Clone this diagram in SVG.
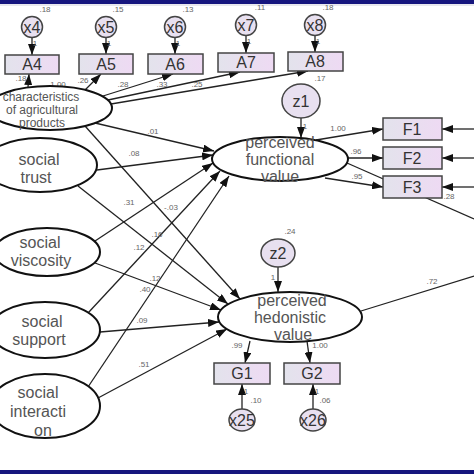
<svg xmlns="http://www.w3.org/2000/svg" width="474" height="474" viewBox="0 0 474 474">
<defs>
<linearGradient id="bx" x1="0" y1="0" x2="1" y2="0">
<stop offset="0" stop-color="#e3e3ec"/>
<stop offset="1" stop-color="#eedaf3"/>
</linearGradient>
<marker id="ah" viewBox="0 0 11 8" refX="11" refY="4" markerWidth="11" markerHeight="8" markerUnits="userSpaceOnUse" orient="auto">
<path d="M0,0 L11,4 L0,8 Z" fill="#111"/>
</marker>
</defs>
<style>
.box{fill:url(#bx);stroke:#444;stroke-width:1.5}
.err{fill:#e8e0f0;stroke:#444;stroke-width:1.5}
.lat{fill:#fff;stroke:#111;stroke-width:2}
.bt{font-family:"Liberation Sans",Arial,sans-serif;font-size:16px;fill:#333;text-anchor:middle}
.lt{font-family:"Liberation Sans",Arial,sans-serif;font-size:16px;fill:#555;text-anchor:middle}
.st{font-family:"Liberation Sans",Arial,sans-serif;font-size:12px;fill:#555;text-anchor:middle}
.n{font-family:"Liberation Sans",Arial,sans-serif;font-size:8px;fill:#666;text-anchor:middle}
.c line{stroke:#222;stroke-width:1.3;fill:none}
.c .a{marker-end:url(#ah)}
</style>
<rect x="0" y="0" width="474" height="474" fill="#fff"/>
<rect x="0" y="0" width="474" height="4" fill="#16167e"/>
<rect x="0" y="4" width="474" height="2" fill="#e8e8ee"/>
<rect x="0" y="470" width="474" height="4" fill="#16167e"/>

<g class="c" id="connectors">
<line class="a" x1="32" y1="37" x2="32" y2="55"/>
<line class="a" x1="106" y1="37" x2="106" y2="54"/>
<line class="a" x1="175" y1="37" x2="175" y2="54"/>
<line class="a" x1="246" y1="35" x2="246" y2="53"/>
<line class="a" x1="315" y1="35" x2="315" y2="52"/>
<line class="a" x1="28" y1="87" x2="29" y2="74"/>
<line class="a" x1="85" y1="90" x2="101" y2="74"/>
<line class="a" x1="103" y1="96" x2="173" y2="74"/>
<line class="a" x1="108" y1="100" x2="240" y2="72"/>
<line class="a" x1="111" y1="104" x2="308" y2="71"/>
<line class="a" x1="301" y1="118" x2="301" y2="138"/>
<line class="a" x1="95" y1="123" x2="214" y2="151"/>
<line class="a" x1="97" y1="170" x2="213" y2="155"/>
<line class="a" x1="95" y1="241" x2="213" y2="163"/>
<line class="a" x1="88" y1="313" x2="220" y2="171"/>
<line class="a" x1="88" y1="387" x2="229" y2="176"/>
<line class="a" x1="85" y1="126" x2="240" y2="299"/>
<line class="a" x1="78" y1="186" x2="228" y2="304"/>
<line class="a" x1="95" y1="263" x2="221" y2="310"/>
<line class="a" x1="100" y1="332" x2="219" y2="322"/>
<line class="a" x1="98" y1="398" x2="227" y2="329"/>
<line class="a" x1="316" y1="140" x2="383" y2="129"/>
<line class="a" x1="348" y1="158" x2="383" y2="158"/>
<line class="a" x1="325" y1="178" x2="383" y2="187"/>
<line class="a" x1="474" y1="129" x2="442" y2="129"/>
<line class="a" x1="474" y1="158" x2="442" y2="158"/>
<line class="a" x1="474" y1="187" x2="442" y2="187"/>
<line x1="347" y1="163" x2="474" y2="219"/>
<line x1="361" y1="311" x2="474" y2="276"/>
<line class="a" x1="278" y1="267" x2="278" y2="292"/>
<line class="a" x1="250" y1="341" x2="245" y2="363"/>
<line class="a" x1="307" y1="341" x2="310" y2="363"/>
<line class="a" x1="242" y1="409" x2="242" y2="384"/>
<line class="a" x1="313" y1="409" x2="313" y2="384"/>
</g>

<g id="x4"><circle class="err" cx="32" cy="27" r="10.5"/><text class="bt" x="32" y="33">x4</text><text class="n" x="45" y="12">.18</text></g>
<g id="x5"><circle class="err" cx="106" cy="27" r="10.5"/><text class="bt" x="106" y="33">x5</text><text class="n" x="118" y="12">.15</text></g>
<g id="x6"><circle class="err" cx="175" cy="27" r="10.5"/><text class="bt" x="175" y="33">x6</text><text class="n" x="188" y="12">.13</text></g>
<g id="x7"><circle class="err" cx="246" cy="25" r="10.5"/><text class="bt" x="246" y="31">x7</text><text class="n" x="260" y="10">.11</text></g>
<g id="x8"><circle class="err" cx="315" cy="25" r="10.5"/><text class="bt" x="315" y="31">x8</text><text class="n" x="328" y="10">.18</text></g>

<g id="A4"><rect class="box" x="5" y="55" width="54" height="19"/><text class="bt" x="32" y="70">A4</text></g>
<g id="A5"><rect class="box" x="79" y="54" width="54" height="20"/><text class="bt" x="106" y="70">A5</text></g>
<g id="A6"><rect class="box" x="148" y="54" width="55" height="20"/><text class="bt" x="175" y="70">A6</text></g>
<g id="A7"><rect class="box" x="218" y="53" width="56" height="19"/><text class="bt" x="246" y="68">A7</text></g>
<g id="A8"><rect class="box" x="288" y="52" width="55" height="19"/><text class="bt" x="315" y="67">A8</text></g>

<g id="labels-a">
<text class="n" x="21" y="81">.18</text>
<text class="n" x="58" y="87">1.00</text>
<text class="n" x="83" y="83">.26</text>
<text class="n" x="123" y="87">.28</text>
<text class="n" x="162" y="87">.33</text>
<text class="n" x="197" y="87">.25</text>
<text class="n" x="320" y="81">.17</text>
<text class="n" x="35" y="46">1</text>
<text class="n" x="109" y="46">1</text>
<text class="n" x="178" y="46">1</text>
<text class="n" x="249" y="44">1</text>
<text class="n" x="318" y="44">1</text>
</g>

<g id="characteristics"><ellipse class="lat" cx="50" cy="108" rx="62" ry="22"/>
<text class="st" x="41" y="101">characteristics</text><text class="st" x="42" y="114">of agricultural</text><text class="st" x="42" y="127">products</text></g>

<g id="trust"><ellipse class="lat" cx="40" cy="165" rx="57" ry="27"/>
<text class="lt" x="39" y="165">social</text><text class="lt" x="36" y="183">trust</text></g>

<g id="viscosity"><ellipse class="lat" cx="47" cy="252" rx="53" ry="24"/>
<text class="lt" x="40" y="248">social</text><text class="lt" x="41" y="266">viscosity</text></g>

<g id="support"><ellipse class="lat" cx="45" cy="330" rx="55" ry="28"/>
<text class="lt" x="42" y="327">social</text><text class="lt" x="39" y="345">support</text></g>

<g id="interaction"><ellipse class="lat" cx="45" cy="406" rx="55" ry="32"/>
<text class="lt" x="38" y="398">social</text><text class="lt" x="38" y="417">interacti</text><text class="lt" x="43" y="436">on</text></g>

<g id="z1"><ellipse class="err" cx="301" cy="101" rx="19" ry="17"/><text class="bt" x="301" y="107">z1</text><text class="n" x="305" y="129">1</text></g>

<g id="functional"><ellipse class="lat" cx="280" cy="159" rx="68" ry="22"/>
<text class="lt" x="280" y="148">perceived</text><text class="lt" x="280" y="165">functional</text><text class="lt" x="280" y="182">value</text></g>

<g id="F1"><rect class="box" x="383" y="118" width="59" height="22"/><text class="bt" x="412" y="135">F1</text></g>
<g id="F2"><rect class="box" x="383" y="147" width="59" height="22"/><text class="bt" x="412" y="164">F2</text></g>
<g id="F3"><rect class="box" x="383" y="176" width="59" height="22"/><text class="bt" x="412" y="193">F3</text></g>

<g id="labels-f">
<text class="n" x="338" y="131">1.00</text>
<text class="n" x="356" y="154">.96</text>
<text class="n" x="357" y="179">.95</text>
<text class="n" x="449" y="199">.28</text>
<text class="n" x="432" y="284">.72</text>
</g>

<g id="z2"><ellipse class="err" cx="278" cy="253" rx="17" ry="14"/><text class="bt" x="278" y="259">z2</text><text class="n" x="290" y="234">.24</text><text class="n" x="273" y="280">1</text></g>

<g id="hedonistic"><ellipse class="lat" cx="290" cy="317" rx="72" ry="25"/>
<text class="lt" x="292" y="306">perceived</text><text class="lt" x="290" y="323">hedonistic</text><text class="lt" x="293" y="340">value</text></g>

<g id="G1"><rect class="box" x="214" y="363" width="56" height="21"/><text class="bt" x="242" y="379">G1</text></g>
<g id="G2"><rect class="box" x="284" y="363" width="56" height="21"/><text class="bt" x="312" y="379">G2</text></g>

<g id="x25"><ellipse class="err" cx="242" cy="420" rx="13" ry="11"/><text class="bt" x="242" y="426">x25</text></g>
<g id="x26"><ellipse class="err" cx="313" cy="420" rx="13" ry="11"/><text class="bt" x="313" y="426">x26</text></g>

<g id="labels-g">
<text class="n" x="237" y="348">.99</text>
<text class="n" x="320" y="348">1.00</text>
<text class="n" x="256" y="403">.10</text>
<text class="n" x="325" y="403">.06</text>
<text class="n" x="246" y="394">1</text>
<text class="n" x="317" y="394">1</text>
</g>

<g id="labels-paths">
<text class="n" x="153" y="134">.01</text>
<text class="n" x="134" y="156">.08</text>
<text class="n" x="129" y="205">.31</text>
<text class="n" x="171" y="210">-.03</text>
<text class="n" x="157" y="237">.16</text>
<text class="n" x="139" y="250">.12</text>
<text class="n" x="155" y="281">.12</text>
<text class="n" x="145" y="292">.40</text>
<text class="n" x="142" y="323">.09</text>
<text class="n" x="144" y="367">.51</text>
</g>
</svg>
